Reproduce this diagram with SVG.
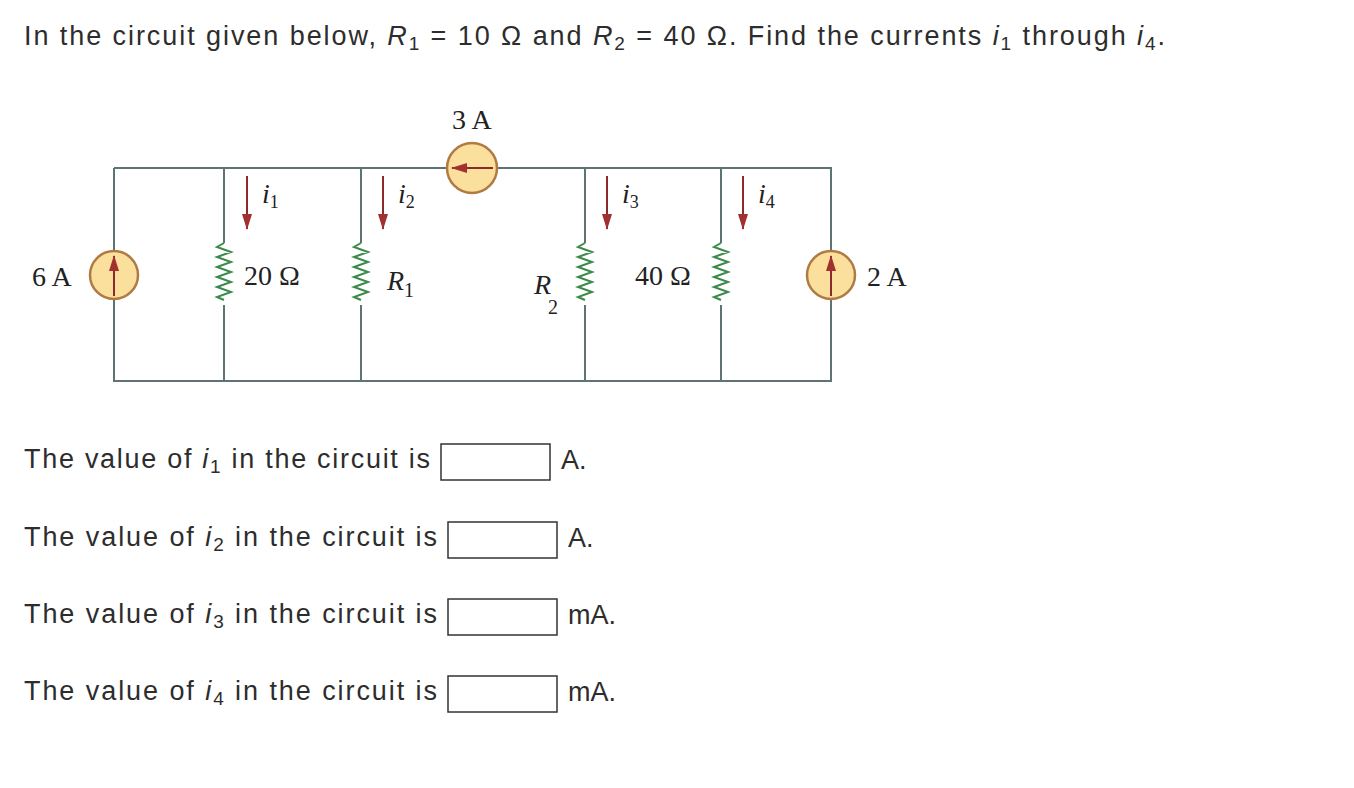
<svg xmlns="http://www.w3.org/2000/svg" width="1354" height="788" viewBox="0 0 1354 788">
<style>
.t{font-family:"Liberation Sans",Arial,sans-serif;font-size:27px;fill:#2d2d2d}
.c{font-family:"Liberation Serif","Times New Roman",serif;font-size:28px;fill:#222}
.w{fill:none;stroke:#5f7374;stroke-width:2}
.r{fill:none;stroke:#3a8a4a;stroke-width:2}
.s{fill:#fbdf9c;stroke:#b07a45;stroke-width:2.5}
.a{stroke:#8b2a2a;stroke-width:2}
.box{fill:#fff;stroke:#333;stroke-width:1.5}
</style>
<defs>
<marker id="ah" viewBox="0 0 10 14" refX="9" refY="7" markerWidth="7" markerHeight="5.5" orient="auto" markerUnits="userSpaceOnUse"><path d="M0,0 L10,7 L0,14 z" fill="#a33030"/></marker>
<marker id="ab" viewBox="0 0 16 10" refX="15" refY="5" markerWidth="16" markerHeight="10" orient="auto" markerUnits="userSpaceOnUse"><path d="M0,0 L16,5 L0,10 z" fill="#a33030"/></marker>
</defs>
<rect width="1354" height="788" fill="#fff"/>
<text class="t" x="24" y="45" textLength="1141" lengthAdjust="spacing">In the circuit given below, <tspan font-style="italic">R</tspan><tspan font-size="19" dy="5">1</tspan><tspan dy="-5"> = 10 Ω and </tspan><tspan font-style="italic">R</tspan><tspan font-size="19" dy="5">2</tspan><tspan dy="-5"> = 40 Ω. Find the currents </tspan><tspan font-style="italic">i</tspan><tspan font-size="19" dy="5">1</tspan><tspan dy="-5"> through </tspan><tspan font-style="italic">i</tspan><tspan font-size="19" dy="5">4</tspan><tspan dy="-5">.</tspan></text>
<g id="connectors">
<path class="w" d="M114,168 H447 M497,168 H831 V251 M831,299 V381 H114 V299 M114,251 V168"/>
<path class="w" d="M224,168 V243 M224,305 V381 M361,168 V243 M361,305 V381 M585,168 V243 M585,305 V381 M721,168 V243 M721,305 V381"/>
</g>
<g id="R20"><path class="r" d="M224,243 l-7,4 l14,5 l-14,5 l14,5 l-14,5 l14,5 l-14,5 l14,5 l-14,5 l14,5 l-14,5 l7,3"/></g>
<g id="R1"><path class="r" d="M361,243 l-7,4 l14,5 l-14,5 l14,5 l-14,5 l14,5 l-14,5 l14,5 l-14,5 l14,5 l-14,5 l7,3"/></g>
<g id="R2"><path class="r" d="M585,243 l-7,4 l14,5 l-14,5 l14,5 l-14,5 l14,5 l-14,5 l14,5 l-14,5 l14,5 l-14,5 l7,3"/></g>
<g id="R40"><path class="r" d="M721,243 l-7,4 l14,5 l-14,5 l14,5 l-14,5 l14,5 l-14,5 l14,5 l-14,5 l14,5 l-14,5 l7,3"/></g>
<g id="S6"><circle class="s" cx="114" cy="275" r="24"/><line class="a" x1="114" y1="296" x2="114" y2="256" marker-end="url(#ab)"/></g>
<g id="S3"><circle class="s" cx="472" cy="168" r="25"/><line class="a" x1="493" y1="168" x2="452" y2="168" marker-end="url(#ab)"/></g>
<g id="S2"><circle class="s" cx="831" cy="275" r="24"/><line class="a" x1="831" y1="296" x2="831" y2="256" marker-end="url(#ab)"/></g>
<g id="arrows">
<line class="a" x1="247" y1="176" x2="247" y2="229" marker-end="url(#ab)"/>
<line class="a" x1="383" y1="176" x2="383" y2="229" marker-end="url(#ab)"/>
<line class="a" x1="607" y1="176" x2="607" y2="229" marker-end="url(#ab)"/>
<line class="a" x1="743" y1="176" x2="743" y2="229" marker-end="url(#ab)"/>
</g>
<g id="labels">
<text class="c" x="262" y="203" font-style="italic" font-size="24">i<tspan font-style="normal" font-size="18" dy="5">1</tspan></text>
<text class="c" x="398" y="203" font-style="italic" font-size="24">i<tspan font-style="normal" font-size="18" dy="5">2</tspan></text>
<text class="c" x="622" y="203" font-style="italic" font-size="24">i<tspan font-style="normal" font-size="18" dy="5">3</tspan></text>
<text class="c" x="758" y="203" font-style="italic" font-size="24">i<tspan font-style="normal" font-size="18" dy="5">4</tspan></text>
<text class="c" x="452" y="129">3 A</text>
<text class="c" x="32" y="286">6 A</text>
<text class="c" x="244" y="285">20 Ω</text>
<text class="c" x="387" y="290" font-style="italic" font-size="34">R<tspan font-style="normal" font-size="20" dy="7">1</tspan></text>
<text class="c" x="534" y="294" font-style="italic" font-size="34">R<tspan font-style="normal" font-size="20" dy="20" dx="-3">2</tspan></text>
<text class="c" x="635" y="285">40 Ω</text>
<text class="c" x="867" y="286">2 A</text>
</g>
<g id="q">
<text class="t" x="24" y="468" textLength="406" lengthAdjust="spacing">The value of <tspan font-style="italic">i</tspan><tspan font-size="19" dy="5">1</tspan><tspan dy="-5"> in the circuit is</tspan></text>
<rect class="box" x="441" y="444" width="109" height="36"/><text class="t" x="561" y="469">A.</text>
<text class="t" x="24" y="546" textLength="413" lengthAdjust="spacing">The value of <tspan font-style="italic">i</tspan><tspan font-size="19" dy="5">2</tspan><tspan dy="-5"> in the circuit is</tspan></text>
<rect class="box" x="448" y="522" width="109" height="36"/><text class="t" x="568" y="547">A.</text>
<text class="t" x="24" y="623" textLength="413" lengthAdjust="spacing">The value of <tspan font-style="italic">i</tspan><tspan font-size="19" dy="5">3</tspan><tspan dy="-5"> in the circuit is</tspan></text>
<rect class="box" x="448" y="599" width="109" height="36"/><text class="t" x="568" y="624">mA.</text>
<text class="t" x="24" y="700" textLength="413" lengthAdjust="spacing">The value of <tspan font-style="italic">i</tspan><tspan font-size="19" dy="5">4</tspan><tspan dy="-5"> in the circuit is</tspan></text>
<rect class="box" x="448" y="676" width="109" height="36"/><text class="t" x="568" y="701">mA.</text>
</g>
</svg>
